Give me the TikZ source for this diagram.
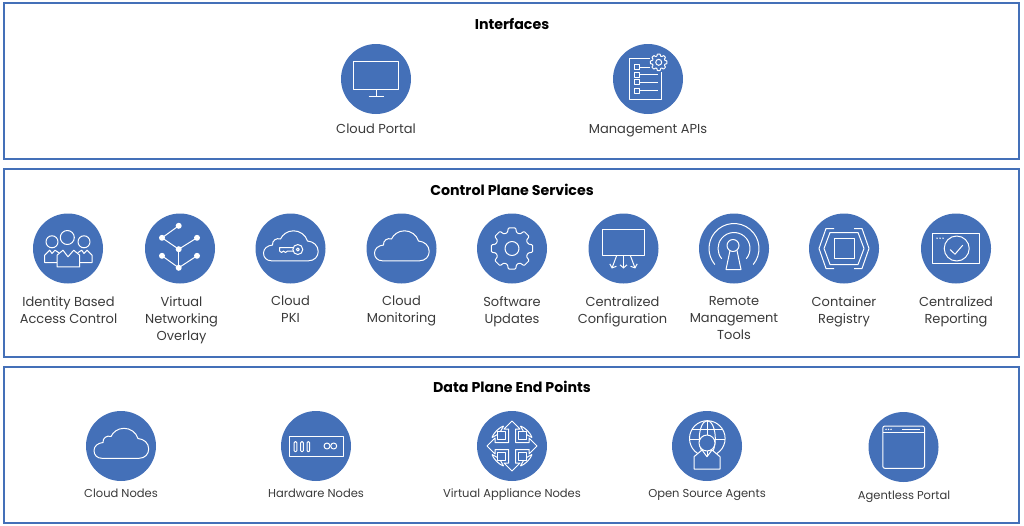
\documentclass[tikz,border=0pt]{standalone}
\usepackage{fontspec}
\setmainfont{Poppins}
\usetikzlibrary{arrows.meta}
\definecolor{vmBlue}{HTML}{4470B8}
\definecolor{vmText}{HTML}{3A3A3A}

\newcommand{\gearPath}[2]{(-16:#2) \foreach \a in {0,45,...,315} { -- ({\a-10}:#1) -- ({\a+10}:#1) -- ({\a+16}:#2) -- ({\a+29}:#2)} -- cycle}
\newcommand{\cloudPath}{(-19,12.3) -- (18,12.3) .. controls (24,12.3) and (27.7,8) .. (27.7,3) .. controls (27.7,-3) and (23,-7) .. (17,-7.5) .. controls (15,-14) and (9,-17.7) .. (3,-17.7) .. controls (-3,-17.7) and (-8,-14) .. (-10,-9.5) .. controls (-14,-11) and (-18.5,-8) .. (-18,-3.5) .. controls (-23,-3) and (-27,0) .. (-27,4.5) .. controls (-27,9) and (-24,12.3) .. (-19,12.3) -- cycle}

\newcommand{\iconMonitor}[1]{\begin{scope}[shift={(#1)},iconLineStyle]
	\draw (-22.3,-17.3) rectangle (22.3,10.7);
	\draw (0,10.7) -- (0,17.3);
	\draw (-7.5,17.3) -- (7.5,17.3);
\end{scope}}
\newcommand{\iconApis}[1]{\begin{scope}[shift={(#1)},iconLineStyle]
	\draw (1.7,-20.7) -- (-18.3,-20.7) -- (-18.3,20) -- (13.3,20) -- (13.3,-6.7);
	\foreach \y in {-11.7,-4.3,3.3,11.7}
		\draw (-13.3,\y-2.5) rectangle (-8.3,\y+2.5);
	\draw (-8.3,-11.7) -- (1.7,-11.7);
	\foreach \y in {-4.3,3.3,11.7}
		\draw (-8.3,\y) -- (10,\y);
	\draw[rounded corners=0.5pt, shift={(10.7,-16.7)}] \gearPath{8.4}{6.4};
	\draw (10.7,-16.7) circle (3);
\end{scope}}
\newcommand{\iconPeople}[1]{\begin{scope}[shift={(#1)},iconLineStyle]
	\draw (-0.7,-11) circle (7);
	\draw (-16,-6.7) circle (6);
	\draw (16,-6.7) circle (6);
	\draw (-11,14) -- (-23.3,14) -- (-23.3,6.7) -- (-18.3,1.7) -- (-16,5) -- (-13,1.7) -- (-9,4.3);
	\draw (11.7,14) -- (24,14) -- (24,6.7) -- (19,1.7) -- (16,5) -- (13.7,1.7) -- (9.7,4.3);
	\draw[fill=vmBlue] (-11,18.3) -- (-11,6.7) -- (-5,1.7) -- (0,8.3) -- (5.7,1.7) -- (11.7,6.7) -- (11.7,18.3) -- cycle;
\end{scope}}
\newcommand{\iconNetwork}[1]{\begin{scope}[shift={(#1)},iconLineStyle]
	\draw (-1.3,-22.7) -- (-18,-10.7) -- (-1.3,0.7) -- (17,-10.7);
	\draw (-1.3,0.7) -- (-1.3,19.3);
	\draw (-18,7.3) -- (-1.3,19.3) -- (17,7.3);
	\foreach \p in {(-1.3,-22.7),(-18,-10.7),(17,-10.7),(-1.3,0.7),(-18,7.3),(17,7.3),(-1.3,19.3)}
		\fill[white] \p circle (3);
\end{scope}}
\newcommand{\iconCloud}[1]{\begin{scope}[shift={(#1)},iconLineStyle]
	\draw \cloudPath;
\end{scope}}
\newcommand{\iconKeyCloud}[1]{\begin{scope}[shift={(#1)},iconLineStyle]
	\draw \cloudPath;
	\draw (7.3,1) circle (5);
	\draw (7.3,1) circle (1.5);
	\draw (2.4,-0.8) -- (-11,-0.8) -- (-11,2.4) -- (-9,4) -- (-7,2.6) -- (-5,4) -- (-3,2.6) -- (2.4,2.6);
\end{scope}}
\newcommand{\iconGear}[1]{\begin{scope}[shift={(#1)},iconLineStyle]
	\draw[rounded corners=1pt] \gearPath{21}{16.5};
	\draw (0,0) circle (7);
\end{scope}}
\newcommand{\iconBoard}[1]{\begin{scope}[shift={(#1)},iconLineStyle]
	\draw (-20.7,-19.3) rectangle (20.7,6.7);
	\draw[boardArrowStyle] (0,6.7) -- (0,20);
	\draw[boardArrowStyle] (-6.7,6.7) -- (-11.7,20);
	\draw[boardArrowStyle] (6.7,6.7) -- (11.7,20);
\end{scope}}
\newcommand{\iconRemote}[1]{\begin{scope}[shift={(#1)},iconLineStyle]
	\draw (40:25) arc (40:-220:25);
	\draw (40:16) arc (40:-220:16);
	\draw (-1,-3) circle (6);
	\draw (-4,2) -- (-8,21) -- (7,21) -- (3,2);
\end{scope}}
\newcommand{\iconContainer}[1]{\begin{scope}[shift={(#1)},iconLineStyle]
	\draw (-10,-10) rectangle (10,10);
	\draw (-14,-16) -- (14,-16) -- (20,0) -- (14,16) -- (-14,16) -- (-20,0) -- cycle;
	\draw (-10,-20) -- (-18,-20) -- (-25,0) -- (-18,20) -- (-10,20);
	\draw (10,-20) -- (18,-20) -- (25,0) -- (18,20) -- (10,20);
\end{scope}}
\newcommand{\iconReport}[1]{\begin{scope}[shift={(#1)},iconLineStyle]
	\draw (-23.3,-15) rectangle (23.3,15);
	\draw (0.7,0) circle (12.5);
	\draw (-6,1) -- (-1,5.7) -- (6.7,-3.3);
	\foreach \x in {-19,-16,-13}
		\fill[white] (\x,-10.3) circle (0.8);
\end{scope}}
\newcommand{\iconHardware}[1]{\begin{scope}[shift={(#1)},iconLineStyle]
	\draw (-26.3,-10) rectangle (27,10);
	\foreach \x in {-20.5,-14,-7.7}
		\draw[rounded corners=1pt] (\x-1.3,-4.3) rectangle (\x+1.3,5.7);
	\draw (11,0) circle (3);
	\draw (17.7,0) circle (3);
\end{scope}}
\newcommand{\iconAppliance}[1]{\begin{scope}[shift={(#1)},iconLineStyle]
	\foreach \r in {0,90,180,270} {
	\begin{scope}[rotate=\r]
		\draw (0,-25) -- (8,-17) -- (3.5,-17) -- (3.5,-3.5) -- (17,-3.5) -- (17,-8) -- (25,0);
		\draw (6.5,-6.5) rectangle (14.5,-14.5);
		\draw (8.5,-20) .. controls (13,-18.5) and (18.5,-13) .. (20,-8.5);
		\draw (8.5,-20) -- (11.5,-14.5);
		\draw (20,-8.5) -- (14.5,-11.5);
	\end{scope}
	}
\end{scope}}
\newcommand{\iconGlobeUser}[1]{\begin{scope}[shift={(#1)},iconLineStyle]
	\draw (0.3,-7.5) circle (17.8);
	\draw (0.3,-7.5) ellipse (8 and 17.8);
	\draw (0.3,-25.3) -- (0.3,10.3);
	\draw (-15.1,-16.5) -- (15.7,-16.5);
	\draw (-17.5,-6.5) -- (18.1,-6.5);
	\draw[fill=vmBlue] (-13,23) -- (-13,10.7) -- (-5,4) -- (0,10.7) -- (5,4) -- (13,10.7) -- (13,23) -- cycle;
	\draw[fill=vmBlue] (0,-3) circle (8);
\end{scope}}
\newcommand{\iconWindow}[1]{\begin{scope}[shift={(#1)},iconLineStyle]
	\draw[rounded corners=2pt] (-20.7,-21) rectangle (21,21.3);
	\draw (-20.7,-14.7) -- (21,-14.7);
	\foreach \x in {-17.5,-15,-12.5}
		\fill[white] (\x,-17.7) circle (0.8);
	\draw (-1.7,-17.7) -- (16,-17.7);
\end{scope}}

\begin{document}
\begin{tikzpicture}[x=1pt, y=-1pt]
	\tikzstyle{frameStyle}=[shape = rectangle, draw = vmBlue, line width = 2.2pt, minimum width = 1015pt, inner sep = 0pt]
	\tikzstyle{titleStyle}=[inner sep = 0pt, font=\fontsize{14.2}{17}\selectfont\bfseries, text = black]
	\tikzstyle{iconStyle}=[shape = circle, fill = vmBlue, minimum size = 70pt, inner sep = 0pt]
	\tikzstyle{captionStyle}=[anchor = north, align = center, inner sep = 0pt, text = vmText, font=\fontsize{13}{17}\selectfont, execute at begin node=\rule{0pt}{11pt}]
	\tikzstyle{smallCaptionStyle}=[captionStyle, font=\fontsize{11.5}{17}\selectfont]
	\tikzstyle{iconLineStyle}=[draw = white, line width = 1pt, line join = round]
	\tikzstyle{boardArrowStyle}=[-{Straight Barb[length=3pt, width=7pt]}]
	\useasboundingbox (0,0) rectangle (1024,525);
	\node[frameStyle, minimum height = 156pt] (fInterfaces) at (511.5,81) {};
	\node[frameStyle, minimum height = 188pt] (fControl) at (511.5,263) {};
	\node[frameStyle, minimum height = 156pt] (fData) at (511.5,445) {};
	\node[titleStyle] (tInterfaces) at (512,24) {Interfaces};
	\node[titleStyle] (tControl) at (512,189.5) {Control Plane Services};
	\node[titleStyle] (tData) at (512,386.5) {Data Plane End Points};
	\node[iconStyle] (vPortal) at (376,79) {};
	\node[iconStyle] (vApis) at (648,79) {};
	\node[iconStyle] (vIdentity) at (68,248.5) {};
	\node[iconStyle] (vOverlay) at (180,248.5) {};
	\node[iconStyle] (vPki) at (290.5,248.5) {};
	\node[iconStyle] (vMonitoring) at (401.5,248.5) {};
	\node[iconStyle] (vUpdates) at (512,248.5) {};
	\node[iconStyle] (vConfig) at (623.5,248.5) {};
	\node[iconStyle] (vRemote) at (734,248.5) {};
	\node[iconStyle] (vRegistry) at (844,248.5) {};
	\node[iconStyle] (vReporting) at (956,248.5) {};
	\node[iconStyle] (vCloudNodes) at (121,446) {};
	\node[iconStyle] (vHardware) at (316,446) {};
	\node[iconStyle] (vAppliance) at (512,446) {};
	\node[iconStyle] (vAgents) at (707,446) {};
	\node[iconStyle] (vAgentless) at (903.5,447) {};
	\iconMonitor{vPortal}
	\iconApis{vApis}
	\iconPeople{vIdentity}
	\iconNetwork{vOverlay}
	\iconKeyCloud{vPki}
	\iconCloud{vMonitoring}
	\iconGear{vUpdates}
	\iconBoard{vConfig}
	\iconRemote{vRemote}
	\iconContainer{vRegistry}
	\iconReport{vReporting}
	\iconCloud{vCloudNodes}
	\iconHardware{vHardware}
	\iconAppliance{vAppliance}
	\iconGlobeUser{vAgents}
	\iconWindow{vAgentless}
	\node[captionStyle] (lPortal) at (376,122.5) {Cloud Portal};
	\node[captionStyle] (lApis) at (648,122.5) {Management APIs};
	\node[captionStyle] (lIdentity) at (68.5,296) {Identity Based\\Access Control};
	\node[captionStyle] (lOverlay) at (181.5,296) {Virtual\\Networking\\Overlay};
	\node[captionStyle] (lPki) at (290.5,296) {Cloud\\PKI};
	\node[captionStyle] (lMonitoring) at (401.5,296) {Cloud\\Monitoring};
	\node[captionStyle] (lUpdates) at (512,296) {Software\\Updates};
	\node[captionStyle] (lConfig) at (622.5,296) {Centralized\\Configuration};
	\node[captionStyle] (lRemote) at (734,296) {Remote\\Management\\Tools};
	\node[captionStyle] (lRegistry) at (844,296) {Container\\Registry};
	\node[captionStyle] (lReporting) at (956,296) {Centralized\\Reporting};
	\node[smallCaptionStyle] (lCloudNodes) at (121,486.5) {Cloud Nodes};
	\node[smallCaptionStyle] (lHardware) at (316,486.5) {Hardware Nodes};
	\node[smallCaptionStyle] (lAppliance) at (512,486.5) {Virtual Appliance Nodes};
	\node[smallCaptionStyle] (lAgents) at (707,486.5) {Open Source Agents};
	\node[smallCaptionStyle] (lAgentless) at (904,488.5) {Agentless Portal};
\end{tikzpicture}
\end{document}
